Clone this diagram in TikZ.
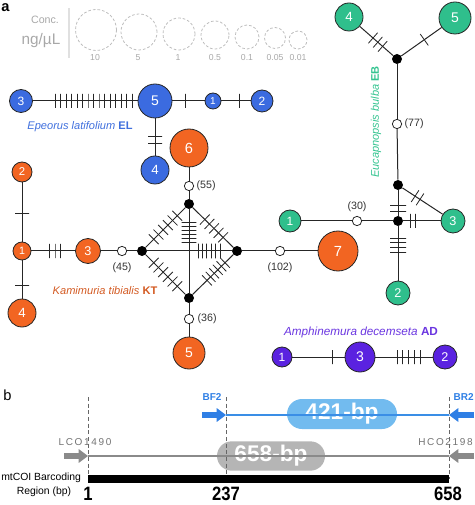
\documentclass[tikz,border=0pt]{standalone}
\usepackage{fontspec}
\setmainfont{Liberation Sans}
\usetikzlibrary{arrows.meta,shapes.misc}
\definecolor{elblue}{HTML}{3B6BE0}
\definecolor{ktor}{HTML}{F26522}
\definecolor{ebgr}{HTML}{2FBF8C}
\definecolor{adpu}{HTML}{5A22E0}
\definecolor{eltext}{HTML}{3F6FDD}
\definecolor{kttext}{HTML}{D35A22}
\definecolor{ebtext}{HTML}{34C490}
\definecolor{adtext}{HTML}{6A35E0}
\definecolor{legray}{HTML}{BDBDBD}
\definecolor{legtext}{HTML}{A8A8A8}
\definecolor{pillblue}{HTML}{72BBEF}
\definecolor{lineblue}{HTML}{3A8EE6}
\definecolor{arrblue}{HTML}{2F7FE5}
\definecolor{pillgray}{HTML}{B5B5B5}
\definecolor{linegray}{HTML}{8A8A8A}
\newcommand\fsz[1]{\fontsize{#1}{#1}\selectfont}
\begin{document}
\begin{tikzpicture}[x=0.75pt,y=-0.75pt,
  hap/.style={circle, draw=black!85, line width=0.6pt, inner sep=0pt, text=white, font=\fsz{9}},
  rad/.style={minimum size=#1*1.5pt},
  elnode/.style={hap, fill=elblue},
  ktnode/.style={hap, fill=ktor},
  ebnode/.style={hap, fill=ebgr},
  adnode/.style={hap, fill=adpu},
  jdot/.style={circle, fill=black, inner sep=0pt, minimum size=7.5pt},
  odot/.style={circle, draw=black!85, fill=white, line width=0.6pt, inner sep=0pt, minimum size=7pt},
  link/.style={line width=0.75pt, black!85},
  hatch/.style={draw=black!85, line width=0.6pt, rectangle, inner sep=0pt, minimum width=0pt, minimum height=10.5pt, sloped},
  numlab/.style={font=\fsz{8}, text=black!80, inner sep=1pt},
  splab/.style={font=\fsz{8.3}, inner sep=0pt},
  leg/.style={circle, draw=legray, dash pattern=on 2pt off 1.5pt, line width=0.6pt, inner sep=0pt},
  legnum/.style={font=\fsz{6.5}, text=legtext, inner sep=0pt},
  pill/.style={rounded rectangle, inner sep=0pt, text=white, font=\fsz{17}\bfseries},
  vdash/.style={draw=black!60, line width=0.6pt, dash pattern=on 3pt off 2pt},
  ]
\useasboundingbox (0,0) rectangle (474,505);

% ---------- panel a legend ----------
\node[font=\fsz{11}\bfseries, anchor=west, inner sep=0pt] (la) at (1,8) {a};
\node[font=\fsz{8}, text=legtext, inner sep=0pt] (lconc) at (45,20) {Conc.};
\node[font=\fsz{11.5}, text=legtext, inner sep=0pt] (lunit) at (41,41) {ng/µL};
\coordinate (vt) at (69,8);
\coordinate (vb) at (69,58);
\draw[black!12, line width=1pt] (vt) -- (vb);
\node[leg, rad=20.5] (c10) at (96,30) {};
\node[leg, rad=18] (c5) at (139,32) {};
\node[leg, rad=16] (c1) at (179,34) {};
\node[leg, rad=14] (c05) at (215,35) {};
\node[leg, rad=12] (c01) at (247,37) {};
\node[leg, rad=10.5] (c005) at (275,38) {};
\node[leg, rad=9] (c001) at (298,40) {};
\node[legnum] (n10) at (95,58) {10};
\node[legnum] (n5) at (138,58) {5};
\node[legnum] (n1) at (178,58) {1};
\node[legnum] (n05) at (215,58) {0.5};
\node[legnum] (n01) at (247,58) {0.1};
\node[legnum] (n005) at (275,58) {0.05};
\node[legnum] (n001) at (298,58) {0.01};

% ---------- EL ----------
\node[elnode, rad=11.5] (el3) at (21,101) {3};
\node[elnode, rad=17, font=\fsz{10.5}] (el5) at (155,101) {5};
\node[elnode, rad=8, font=\fsz{7.5}] (el1) at (213,101) {1};
\node[elnode, rad=11] (el2) at (262,101) {2};
\node[elnode, rad=14, font=\fsz{10}] (el4) at (155,170) {4};
\draw[link] (el3) -- (el5);
\draw[link] (el5) -- (el1);
\draw[link] (el1) -- (el2);
\draw[link] (el5) -- (el4);
\foreach \i [evaluate=\i as \q using 0.254+0.041*\i] in {0,...,14}
  {\path (el3.center) -- (el5.center) node[hatch, pos=\q] {};}
\path (el5.center) -- (el1.center) node[hatch, pos=0.53] {};
\path (el1.center) -- (el2.center) node[hatch, pos=0.53] {};
\foreach \q in {0.52,0.61} {\path (el5.center) -- (el4.center) node[hatch, pos=\q] {};}
\node[splab, text=eltext] (ellab) at (80,127) {\itshape Epeorus latifolium \upshape\bfseries EL};

% ---------- KT ----------
\node[ktnode, rad=19, font=\fsz{11}] (kt6) at (189,148) {6};
\node[odot] (o55) at (189,186) {};
\node[jdot] (dt) at (189,204) {};
\node[jdot] (dl) at (142,251) {};
\node[jdot] (dr) at (237,251) {};
\node[jdot] (db) at (189,298) {};
\node[odot] (o45) at (122,251) {};
\node[ktnode, rad=12.5, font=\fsz{9.5}] (kt3) at (88,251) {3};
\node[ktnode, rad=9, font=\fsz{8}] (kt1) at (22,251) {1};
\node[ktnode, rad=10, font=\fsz{8.5}] (kt2) at (22,172) {2};
\node[ktnode, rad=14, font=\fsz{10}] (kt4) at (22,313) {4};
\node[odot] (o36) at (189,319) {};
\node[ktnode, rad=16, font=\fsz{10.5}] (kt5) at (189,353) {5};
\node[odot] (o102) at (280,251) {};
\node[ktnode, rad=20, font=\fsz{11}] (kt7) at (338,251) {7};
\draw[link] (kt6) -- (o55);
\draw[link] (o55) -- (dt);
\draw[link] (dt) -- (dl);
\draw[link] (dl) -- (db);
\draw[link] (db) -- (dr);
\draw[link] (dr) -- (dt);
\draw[link] (dt) -- (db);
\draw[link] (dl) -- (dr);
\draw[link] (dl) -- (o45);
\draw[link] (o45) -- (kt3);
\draw[link] (kt3) -- (kt1);
\draw[link] (kt1) -- (kt2);
\draw[link] (kt1) -- (kt4);
\draw[link] (db) -- (o36);
\draw[link] (o36) -- (kt5);
\draw[link] (dr) -- (o102);
\draw[link] (o102) -- (kt7);
\foreach \q in {0.25,0.35,0.45,0.55,0.65,0.75}
  {\path (dl.center) -- (dt.center) node[hatch, pos=\q] {};
   \path (dl.center) -- (db.center) node[hatch, pos=\q] {};}
\foreach \q in {0.33,0.425,0.52,0.615,0.71}
  {\path (dt.center) -- (dr.center) node[hatch, pos=\q] {};}
\foreach \q in {0.375,0.45,0.525,0.6,0.675,0.75}
  {\path (db.center) -- (dr.center) node[hatch, pos=\q] {};}
\foreach \q in {0.2,0.242,0.284,0.326,0.368,0.41}
  {\path (dt.center) -- (db.center) node[hatch, pos=\q, minimum height=11pt] {};}
\foreach \q in {0.59,0.636,0.682,0.728,0.774,0.82}
  {\path (dl.center) -- (dr.center) node[hatch, pos=\q, minimum height=11pt] {};}
\foreach \q in {0.42,0.5,0.58}
  {\path (kt1.center) -- (kt3.center) node[hatch, pos=\q] {};}
\path (kt1.center) -- (kt2.center) node[hatch, pos=0.47] {};
\path (kt1.center) -- (kt4.center) node[hatch, pos=0.55] {};
\node[numlab, anchor=west] (t55) at (195,186) {(55)};
\node[numlab, anchor=west] (t36) at (196,319) {(36)};
\node[numlab] (t45) at (122,268) {(45)};
\node[numlab] (t102) at (280,268) {(102)};
\node[splab, text=kttext] (ktlab) at (105,291) {\itshape Kamimuria tibialis \upshape\bfseries KT};

% ---------- EB ----------
\node[ebnode, rad=14, font=\fsz{10}] (eb4) at (349,17) {4};
\node[ebnode, rad=16, font=\fsz{10.5}] (eb5) at (455,18) {5};
\node[jdot] (ej1) at (397,59) {};
\node[odot] (o77) at (397,124) {};
\node[jdot] (ej2) at (398,185) {};
\node[jdot] (ej3) at (398,221) {};
\node[ebnode, rad=12, font=\fsz{9.5}] (eb3) at (453,221) {3};
\node[ebnode, rad=12, font=\fsz{9.5}] (eb2) at (398,293) {2};
\node[odot] (o30) at (357,221) {};
\node[ebnode, rad=11, font=\fsz{9}] (eb1) at (290,221) {1};
\draw[link] (eb4) -- (ej1);
\draw[link] (eb5) -- (ej1);
\draw[link] (ej1) -- (o77);
\draw[link] (o77) -- (ej2);
\draw[link] (ej2) -- (ej3);
\draw[link] (ej2) -- (eb3);
\draw[link] (ej3) -- (eb3);
\draw[link] (ej3) -- (eb2);
\draw[link] (ej3) -- (o30);
\draw[link] (o30) -- (eb1);
\foreach \q in {0.5,0.6,0.7} {\path (eb4.center) -- (ej1.center) node[hatch, pos=\q] {};}
\path (eb5.center) -- (ej1.center) node[hatch, pos=0.53] {};
\foreach \q in {0.58,0.73} {\path (ej2.center) -- (ej3.center) node[hatch, pos=\q, minimum height=12pt] {};}
\foreach \q in {0.31,0.4} {\path (ej2.center) -- (eb3.center) node[hatch, pos=\q] {};}
\foreach \q in {0.22,0.31} {\path (ej3.center) -- (eb3.center) node[hatch, pos=\q] {};}
\foreach \q in {0.24,0.303,0.367,0.43} {\path (ej3.center) -- (eb2.center) node[hatch, pos=\q, minimum height=12pt] {};}
\node[numlab, anchor=west] (t77) at (403,124) {(77)};
\node[numlab] (t30) at (357,207) {(30)};
\node[splab, text=ebtext, rotate=90] (eblab) at (376,122) {\itshape Eucapnopsis bulba \upshape\bfseries EB};

% ---------- AD ----------
\node[adnode, rad=10, font=\fsz{9}] (ad1) at (282,357) {1};
\node[adnode, rad=15, font=\fsz{10.5}] (ad3) at (360,357) {3};
\node[adnode, rad=12, font=\fsz{9.5}] (ad2) at (445,357) {2};
\draw[link] (ad1) -- (ad3);
\draw[link] (ad3) -- (ad2);
\path (ad1.center) -- (ad3.center) node[hatch, pos=0.64] {};
\foreach \q in {0.435,0.504,0.573,0.642,0.711} {\path (ad3.center) -- (ad2.center) node[hatch, pos=\q] {};}
\node[splab, text=adtext, font=\fsz{8.8}] (adlab) at (361,332) {\itshape Amphinemura decemseta \upshape\bfseries AD};

% ---------- panel b ----------
\node[font=\fsz{11}, anchor=west, inner sep=0pt] (lb) at (3,395) {b};
\node[font=\fsz{7.5}\bfseries, text=arrblue, inner sep=0pt] (bf2) at (212,397) {BF2};
\node[font=\fsz{7.5}\bfseries, text=arrblue, inner sep=0pt, anchor=east] (br2) at (474,397) {BR2};
\node[font=\fsz{7.5}, text=black!55, inner sep=0pt] (lco) at (85,442) {L\,C\,O\,1\,4\,9\,0};
\node[font=\fsz{7.5}, text=black!55, inner sep=0pt, anchor=east] (hco) at (473,442) {H\,C\,O\,2\,1\,9\,8};

\node[pill, fill=pillblue, minimum width=82.5pt, minimum height=22.5pt] (p421) at (342,414) {421-bp};
\node[pill, fill=pillgray, minimum width=81pt, minimum height=22pt] (p658) at (271,456) {658-bp};

\coordinate (bfL) at (202,415);
\coordinate (bfT) at (226,415);
\coordinate (brR) at (474,415);
\coordinate (brT) at (449,415);
\draw[lineblue, line width=1pt] (bfT) -- (brT);
\draw[arrblue, line width=4pt, -{Triangle[length=7pt,width=10pt]}] (bfL) -- (bfT);
\draw[arrblue, line width=4pt, -{Triangle[length=7pt,width=10pt]}] (brR) -- (brT);

\coordinate (lcL) at (64,456);
\coordinate (lcT) at (88,456);
\coordinate (hcR) at (474,456);
\coordinate (hcT) at (449,456);
\draw[linegray, line width=1pt] (lcT) -- (hcT);
\draw[linegray, line width=4pt, -{Triangle[length=7pt,width=10pt]}] (lcL) -- (lcT);
\draw[linegray, line width=4pt, -{Triangle[length=7pt,width=10pt]}] (hcR) -- (hcT);

\coordinate (d1t) at (88,397);
\coordinate (d1b) at (88,479);
\coordinate (d2t) at (226,397);
\coordinate (d2b) at (226,479);
\coordinate (d3t) at (449,397);
\coordinate (d3b) at (449,479);
\draw[vdash] (d1t) -- (d1b);
\draw[vdash] (d2t) -- (d2b);
\draw[vdash] (d3t) -- (d3b);

\node[fill=black, inner sep=0pt, minimum width=270.75pt, minimum height=6pt, anchor=west] (bar) at (88,479) {};
\node[font=\fsz{7.8}, inner sep=0pt, anchor=west] (mt1) at (1,478) {mtCOI Barcoding};
\node[font=\fsz{7.8}, inner sep=0pt] (mt2) at (44,492) {Region (bp)};
\node[font=\fsz{14.5}\bfseries, inner sep=0pt] (x1) at (88,494) {\scalebox{0.86}[1]{1}};
\node[font=\fsz{14.5}\bfseries, inner sep=0pt] (x237) at (226,494) {\scalebox{0.86}[1]{237}};
\node[font=\fsz{14.5}\bfseries, inner sep=0pt] (x658) at (448,494) {\scalebox{0.86}[1]{658}};
\end{tikzpicture}
\end{document}
